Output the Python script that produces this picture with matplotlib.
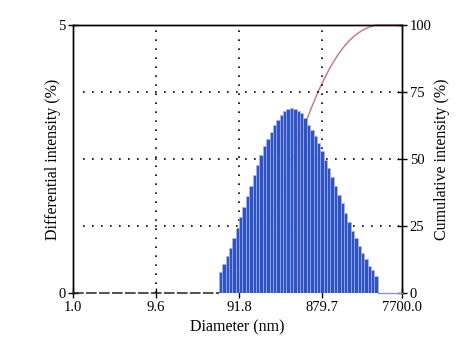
import numpy as np
import matplotlib
matplotlib.use("Agg")
import matplotlib.pyplot as plt

# differential intensity per size bin (%)
diff_int = [0.39, 0.54, 0.69, 0.84, 1.03, 1.21, 1.41, 1.60, 1.80, 2.00,
            2.20, 2.39, 2.57, 2.74, 2.87, 3.01, 3.13, 3.23, 3.32, 3.40,
            3.43, 3.45, 3.43, 3.40, 3.35, 3.26, 3.13, 3.04, 2.93, 2.79,
            2.64, 2.48, 2.33, 2.16, 2.00, 1.83, 1.67, 1.50, 1.33, 1.16,
            1.02, 0.88, 0.74, 0.63, 0.51, 0.42, 0.32]
# size range covered by the bins (nm), log-spaced bins like the instrument
d_first = 52.7
d_last = 4000.0
x_ticks = [1.0, 9.6, 91.8, 879.7, 7700.0]
x_ticklabels = ["1.0", "9.6", "91.8", "879.7", "7700.0"]

plt.rcParams['font.family'] = ['Liberation Serif', 'DejaVu Serif']

edges = np.geomspace(d_first, d_last, len(diff_int) + 1)
centers = np.sqrt(edges[:-1] * edges[1:])
cum = np.cumsum(diff_int) / np.sum(diff_int) * 100

fig = plt.figure(figsize=(4.74, 3.63), dpi=100)
ax = fig.add_axes([0.154, 0.193, 0.694, 0.738])
ax2 = ax.twinx()
ax.set_zorder(ax2.get_zorder() + 1)
ax.patch.set_visible(False)

ax.bar(edges[:-1], diff_int, width=np.diff(edges), align='edge',
       color='#2f53c6', edgecolor='#a9bbea', linewidth=0.4, zorder=3)
# baseline where there are no counts
ax.plot([x_ticks[0], edges[0]], [0, 0], color='#222222', lw=1.1,
        ls=(0, (7, 1.5)), zorder=4, clip_on=False)
ax.plot([edges[-1], x_ticks[-1]], [0, 0], color='#8a96c4', lw=1.0,
        zorder=4, clip_on=False)

# cumulative curve (behind the bars)
cx = np.concatenate([[edges[0]], centers, [x_ticks[-1]]])
cy = np.concatenate([[0], cum, [100]])
ax2.plot(cx, cy, color='#c97b8b', lw=1.1, clip_on=False)

ax.set_xscale('log')
ax.set_xlim(x_ticks[0], x_ticks[-1])
ax.set_ylim(0, 5)
ax2.set_ylim(0, 100)
ax.set_xticks(x_ticks)
ax.set_xticklabels(x_ticklabels)
ax.xaxis.set_minor_locator(matplotlib.ticker.NullLocator())
ax.set_yticks([0, 5])
ax2.set_yticks([0, 25, 50, 75, 100])

# dotted grid
for xv in x_ticks[1:-1]:
    ax.axvline(xv, color='black', lw=1.2, ls=(0, (1, 4.4)), zorder=1)
for yv in [1.25, 2.5, 3.75]:
    ax.axhline(yv, xmin=0.03, xmax=0.99, color='black', lw=1.2,
               ls=(0, (1, 4.4)), zorder=1)

ax.spines['bottom'].set_visible(False)
ax2.spines['bottom'].set_visible(False)
for s in ['left', 'right', 'top']:
    ax.spines[s].set_linewidth(1.0)
    ax2.spines[s].set_linewidth(1.0)

ax.tick_params(axis='both', direction='inout', length=7, width=1.0,
               labelsize=10.5, pad=2)
ax2.tick_params(axis='y', direction='inout', length=7, width=1.0,
                labelsize=10.5, pad=2)

ax.set_xlabel('Diameter (nm)', fontsize=11.5, labelpad=4)
ax.set_ylabel('Differential intensity (%)', fontsize=11.5, labelpad=-2)
ax2.set_ylabel('Cumulative intensity (%)', fontsize=11.5, labelpad=2)

fig.savefig('out.png', dpi=100)
